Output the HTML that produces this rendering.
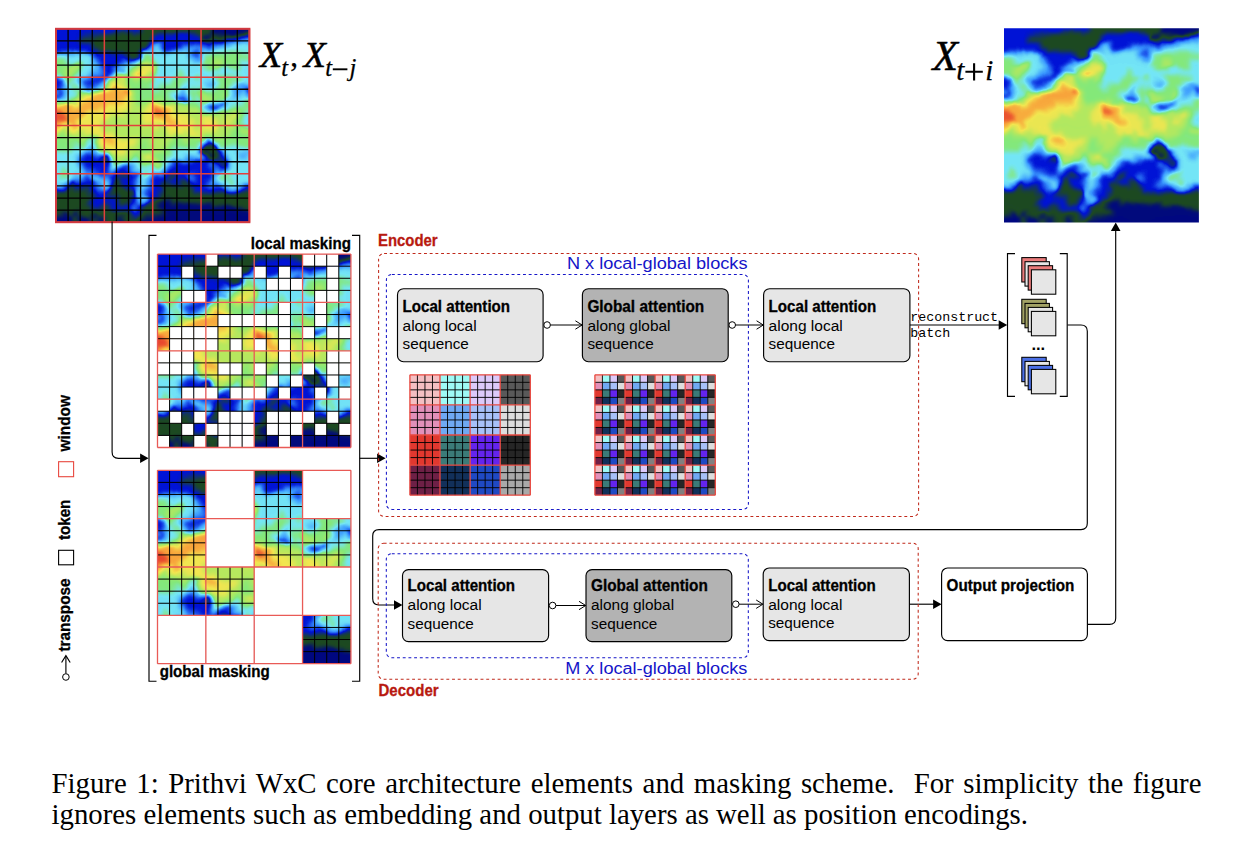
<!DOCTYPE html>
<html><head><meta charset="utf-8"><title>Figure 1</title>
<style>
html,body{margin:0;padding:0;background:#fff;}
body{width:1236px;height:856px;position:relative;overflow:hidden;font-family:"Liberation Sans",sans-serif;}
svg{position:absolute;left:0;top:0;}
.cap{position:absolute;left:51.5px;top:767.5px;width:1150px;font-family:"Liberation Serif",serif;font-size:28.8px;line-height:31px;color:#000;white-space:nowrap;}
.cap .l1{display:block;text-align:justify;text-align-last:justify;white-space:normal;height:31px;overflow:hidden;}
.cap .l2{display:block;}
</style></head>
<body>
<svg width="1236" height="856" viewBox="0 0 1236 856">
<defs><filter id="wxf" x="0" y="0" width="100%" height="100%" filterUnits="objectBoundingBox" color-interpolation-filters="sRGB"><feGaussianBlur in="SourceGraphic" stdDeviation="2.3" result="b"/><feTurbulence type="fractalNoise" baseFrequency="0.02 0.034" numOctaves="2" seed="7" result="t"/><feDisplacementMap in="b" in2="t" scale="14" xChannelSelector="R" yChannelSelector="G" result="d1"/><feTurbulence type="fractalNoise" baseFrequency="0.07" numOctaves="1" seed="3" result="t2"/><feDisplacementMap in="d1" in2="t2" scale="8" xChannelSelector="G" yChannelSelector="R" result="d2a"/><feGaussianBlur in="d2a" stdDeviation="1.0" result="d2"/><feComponentTransfer in="d2"><feFuncR type="table" tableValues="0.000 0.114 0.000 0.227 0.455 0.518 0.714 0.949 0.973 0.910"/><feFuncG type="table" tableValues="0.031 0.290 0.071 0.596 0.902 0.910 0.910 0.902 0.651 0.282"/><feFuncB type="table" tableValues="0.502 0.125 0.839 1.000 0.965 0.478 0.369 0.314 0.235 0.180"/></feComponentTransfer></filter>
<clipPath id="wxc"><rect x="0" y="0" width="193.4" height="193.4"/></clipPath>
<g id="wx" clip-path="url(#wxc)"><g filter="url(#wxf)"><rect x="-14" y="-14" width="221.4" height="221.4" fill="#393939"/><rect x="-14.00" y="-14.00" width="98.91" height="20.34" fill="#393939"/><rect x="84.61" y="-14.00" width="72.83" height="20.34" fill="#1c1c1c"/><rect x="157.14" y="-14.00" width="50.56" height="20.34" fill="#000000"/><rect x="-14.00" y="6.04" width="38.47" height="6.34" fill="#393939"/><rect x="24.18" y="6.04" width="72.83" height="6.34" fill="#1c1c1c"/><rect x="96.70" y="6.04" width="48.65" height="6.34" fill="#393939"/><rect x="145.05" y="6.04" width="12.39" height="6.34" fill="#000000"/><rect x="157.14" y="6.04" width="12.39" height="6.34" fill="#1c1c1c"/><rect x="169.22" y="6.04" width="12.39" height="6.34" fill="#393939"/><rect x="181.31" y="6.04" width="26.39" height="6.34" fill="#555555"/><rect x="-14.00" y="12.09" width="50.56" height="6.34" fill="#393939"/><rect x="36.26" y="12.09" width="60.74" height="6.34" fill="#1c1c1c"/><rect x="96.70" y="12.09" width="60.74" height="6.34" fill="#393939"/><rect x="157.14" y="12.09" width="18.43" height="6.34" fill="#555555"/><rect x="175.27" y="12.09" width="32.43" height="6.34" fill="#717171"/><rect x="-14.00" y="18.13" width="56.61" height="6.34" fill="#393939"/><rect x="42.31" y="18.13" width="54.69" height="6.34" fill="#1c1c1c"/><rect x="96.70" y="18.13" width="6.34" height="6.34" fill="#555555"/><rect x="102.74" y="18.13" width="6.34" height="6.34" fill="#717171"/><rect x="108.79" y="18.13" width="18.43" height="6.34" fill="#393939"/><rect x="126.92" y="18.13" width="30.52" height="6.34" fill="#555555"/><rect x="157.14" y="18.13" width="50.56" height="6.34" fill="#717171"/><rect x="-14.00" y="24.18" width="50.56" height="6.34" fill="#717171"/><rect x="36.26" y="24.18" width="36.56" height="6.34" fill="#393939"/><rect x="72.53" y="24.18" width="12.39" height="6.34" fill="#1c1c1c"/><rect x="84.61" y="24.18" width="12.39" height="6.34" fill="#8e8e8e"/><rect x="96.70" y="24.18" width="36.56" height="6.34" fill="#717171"/><rect x="132.96" y="24.18" width="6.34" height="6.34" fill="#555555"/><rect x="139.01" y="24.18" width="6.34" height="6.34" fill="#393939"/><rect x="145.05" y="24.18" width="62.65" height="6.34" fill="#8e8e8e"/><rect x="-14.00" y="30.22" width="26.39" height="6.34" fill="#8e8e8e"/><rect x="12.09" y="30.22" width="24.48" height="6.34" fill="#717171"/><rect x="36.26" y="30.22" width="6.34" height="6.34" fill="#555555"/><rect x="42.31" y="30.22" width="24.48" height="6.34" fill="#393939"/><rect x="66.48" y="30.22" width="6.34" height="6.34" fill="#555555"/><rect x="72.53" y="30.22" width="12.39" height="6.34" fill="#717171"/><rect x="84.61" y="30.22" width="12.39" height="6.34" fill="#8e8e8e"/><rect x="96.70" y="30.22" width="48.65" height="6.34" fill="#717171"/><rect x="145.05" y="30.22" width="12.39" height="6.34" fill="#8e8e8e"/><rect x="157.14" y="30.22" width="12.39" height="6.34" fill="#aaaaaa"/><rect x="169.22" y="30.22" width="18.43" height="6.34" fill="#8e8e8e"/><rect x="187.36" y="30.22" width="20.34" height="6.34" fill="#717171"/><rect x="-14.00" y="36.26" width="26.39" height="6.34" fill="#8e8e8e"/><rect x="12.09" y="36.26" width="12.39" height="6.34" fill="#aaaaaa"/><rect x="24.18" y="36.26" width="18.43" height="6.34" fill="#717171"/><rect x="42.31" y="36.26" width="6.34" height="6.34" fill="#555555"/><rect x="48.35" y="36.26" width="12.39" height="6.34" fill="#393939"/><rect x="60.44" y="36.26" width="6.34" height="6.34" fill="#555555"/><rect x="66.48" y="36.26" width="6.34" height="6.34" fill="#717171"/><rect x="72.53" y="36.26" width="6.34" height="6.34" fill="#8e8e8e"/><rect x="78.57" y="36.26" width="6.34" height="6.34" fill="#aaaaaa"/><rect x="84.61" y="36.26" width="12.39" height="6.34" fill="#c6c6c6"/><rect x="96.70" y="36.26" width="54.69" height="6.34" fill="#717171"/><rect x="151.09" y="36.26" width="12.39" height="6.34" fill="#8e8e8e"/><rect x="163.18" y="36.26" width="12.39" height="6.34" fill="#717171"/><rect x="175.27" y="36.26" width="12.39" height="6.34" fill="#8e8e8e"/><rect x="187.36" y="36.26" width="20.34" height="6.34" fill="#717171"/><rect x="-14.00" y="42.31" width="26.39" height="6.34" fill="#8e8e8e"/><rect x="12.09" y="42.31" width="6.34" height="6.34" fill="#aaaaaa"/><rect x="18.13" y="42.31" width="6.34" height="6.34" fill="#8e8e8e"/><rect x="24.18" y="42.31" width="12.39" height="6.34" fill="#717171"/><rect x="36.26" y="42.31" width="12.39" height="6.34" fill="#555555"/><rect x="48.35" y="42.31" width="12.39" height="6.34" fill="#393939"/><rect x="60.44" y="42.31" width="12.39" height="6.34" fill="#555555"/><rect x="72.53" y="42.31" width="6.34" height="6.34" fill="#aaaaaa"/><rect x="78.57" y="42.31" width="6.34" height="6.34" fill="#e3e3e3"/><rect x="84.61" y="42.31" width="6.34" height="6.34" fill="#c6c6c6"/><rect x="90.66" y="42.31" width="6.34" height="6.34" fill="#aaaaaa"/><rect x="96.70" y="42.31" width="24.48" height="6.34" fill="#717171"/><rect x="120.88" y="42.31" width="6.34" height="6.34" fill="#8e8e8e"/><rect x="126.92" y="42.31" width="80.78" height="6.34" fill="#717171"/><rect x="-14.00" y="48.35" width="26.39" height="6.34" fill="#393939"/><rect x="12.09" y="48.35" width="6.34" height="6.34" fill="#8e8e8e"/><rect x="18.13" y="48.35" width="6.34" height="6.34" fill="#717171"/><rect x="24.18" y="48.35" width="6.34" height="6.34" fill="#555555"/><rect x="30.22" y="48.35" width="24.48" height="6.34" fill="#393939"/><rect x="54.39" y="48.35" width="6.34" height="6.34" fill="#555555"/><rect x="60.44" y="48.35" width="6.34" height="6.34" fill="#aaaaaa"/><rect x="66.48" y="48.35" width="6.34" height="6.34" fill="#c6c6c6"/><rect x="72.53" y="48.35" width="6.34" height="6.34" fill="#8e8e8e"/><rect x="78.57" y="48.35" width="6.34" height="6.34" fill="#aaaaaa"/><rect x="84.61" y="48.35" width="6.34" height="6.34" fill="#8e8e8e"/><rect x="90.66" y="48.35" width="6.34" height="6.34" fill="#aaaaaa"/><rect x="96.70" y="48.35" width="18.43" height="6.34" fill="#717171"/><rect x="114.83" y="48.35" width="18.43" height="6.34" fill="#8e8e8e"/><rect x="132.96" y="48.35" width="6.34" height="6.34" fill="#717171"/><rect x="139.01" y="48.35" width="6.34" height="6.34" fill="#8e8e8e"/><rect x="145.05" y="48.35" width="12.39" height="6.34" fill="#717171"/><rect x="157.14" y="48.35" width="30.52" height="6.34" fill="#8e8e8e"/><rect x="187.36" y="48.35" width="20.34" height="6.34" fill="#717171"/><rect x="-14.00" y="54.39" width="20.34" height="6.34" fill="#393939"/><rect x="6.04" y="54.39" width="6.34" height="6.34" fill="#555555"/><rect x="12.09" y="54.39" width="6.34" height="6.34" fill="#717171"/><rect x="18.13" y="54.39" width="6.34" height="6.34" fill="#8e8e8e"/><rect x="24.18" y="54.39" width="6.34" height="6.34" fill="#717171"/><rect x="30.22" y="54.39" width="12.39" height="6.34" fill="#555555"/><rect x="42.31" y="54.39" width="6.34" height="6.34" fill="#717171"/><rect x="48.35" y="54.39" width="6.34" height="6.34" fill="#aaaaaa"/><rect x="54.39" y="54.39" width="6.34" height="6.34" fill="#e3e3e3"/><rect x="60.44" y="54.39" width="6.34" height="6.34" fill="#c6c6c6"/><rect x="66.48" y="54.39" width="6.34" height="6.34" fill="#aaaaaa"/><rect x="72.53" y="54.39" width="24.48" height="6.34" fill="#8e8e8e"/><rect x="96.70" y="54.39" width="6.34" height="6.34" fill="#717171"/><rect x="102.74" y="54.39" width="24.48" height="6.34" fill="#8e8e8e"/><rect x="126.92" y="54.39" width="24.48" height="6.34" fill="#717171"/><rect x="151.09" y="54.39" width="6.34" height="6.34" fill="#555555"/><rect x="157.14" y="54.39" width="18.43" height="6.34" fill="#8e8e8e"/><rect x="175.27" y="54.39" width="6.34" height="6.34" fill="#717171"/><rect x="181.31" y="54.39" width="6.34" height="6.34" fill="#555555"/><rect x="187.36" y="54.39" width="20.34" height="6.34" fill="#717171"/><rect x="-14.00" y="60.44" width="20.34" height="6.34" fill="#555555"/><rect x="6.04" y="60.44" width="6.34" height="6.34" fill="#393939"/><rect x="12.09" y="60.44" width="12.39" height="6.34" fill="#717171"/><rect x="24.18" y="60.44" width="6.34" height="6.34" fill="#aaaaaa"/><rect x="30.22" y="60.44" width="6.34" height="6.34" fill="#c6c6c6"/><rect x="36.26" y="60.44" width="30.52" height="6.34" fill="#e3e3e3"/><rect x="66.48" y="60.44" width="6.34" height="6.34" fill="#ffffff"/><rect x="72.53" y="60.44" width="6.34" height="6.34" fill="#aaaaaa"/><rect x="78.57" y="60.44" width="36.56" height="6.34" fill="#8e8e8e"/><rect x="114.83" y="60.44" width="12.39" height="6.34" fill="#717171"/><rect x="126.92" y="60.44" width="6.34" height="6.34" fill="#555555"/><rect x="132.96" y="60.44" width="12.39" height="6.34" fill="#8e8e8e"/><rect x="145.05" y="60.44" width="6.34" height="6.34" fill="#aaaaaa"/><rect x="151.09" y="60.44" width="18.43" height="6.34" fill="#8e8e8e"/><rect x="169.22" y="60.44" width="6.34" height="6.34" fill="#717171"/><rect x="175.27" y="60.44" width="12.39" height="6.34" fill="#555555"/><rect x="187.36" y="60.44" width="20.34" height="6.34" fill="#393939"/><rect x="-14.00" y="66.48" width="20.34" height="6.34" fill="#393939"/><rect x="6.04" y="66.48" width="6.34" height="6.34" fill="#555555"/><rect x="12.09" y="66.48" width="6.34" height="6.34" fill="#717171"/><rect x="18.13" y="66.48" width="6.34" height="6.34" fill="#aaaaaa"/><rect x="24.18" y="66.48" width="6.34" height="6.34" fill="#c6c6c6"/><rect x="30.22" y="66.48" width="36.56" height="6.34" fill="#e3e3e3"/><rect x="66.48" y="66.48" width="6.34" height="6.34" fill="#c6c6c6"/><rect x="72.53" y="66.48" width="6.34" height="6.34" fill="#aaaaaa"/><rect x="78.57" y="66.48" width="24.48" height="6.34" fill="#8e8e8e"/><rect x="102.74" y="66.48" width="6.34" height="6.34" fill="#aaaaaa"/><rect x="108.79" y="66.48" width="12.39" height="6.34" fill="#8e8e8e"/><rect x="120.88" y="66.48" width="12.39" height="6.34" fill="#393939"/><rect x="132.96" y="66.48" width="6.34" height="6.34" fill="#8e8e8e"/><rect x="139.01" y="66.48" width="6.34" height="6.34" fill="#717171"/><rect x="145.05" y="66.48" width="12.39" height="6.34" fill="#aaaaaa"/><rect x="157.14" y="66.48" width="6.34" height="6.34" fill="#8e8e8e"/><rect x="163.18" y="66.48" width="6.34" height="6.34" fill="#aaaaaa"/><rect x="169.22" y="66.48" width="6.34" height="6.34" fill="#717171"/><rect x="175.27" y="66.48" width="6.34" height="6.34" fill="#555555"/><rect x="181.31" y="66.48" width="6.34" height="6.34" fill="#717171"/><rect x="187.36" y="66.48" width="20.34" height="6.34" fill="#555555"/><rect x="-14.00" y="72.53" width="32.43" height="6.34" fill="#e3e3e3"/><rect x="18.13" y="72.53" width="6.34" height="6.34" fill="#c6c6c6"/><rect x="24.18" y="72.53" width="24.48" height="6.34" fill="#e3e3e3"/><rect x="48.35" y="72.53" width="24.48" height="6.34" fill="#c6c6c6"/><rect x="72.53" y="72.53" width="18.43" height="6.34" fill="#aaaaaa"/><rect x="90.66" y="72.53" width="6.34" height="6.34" fill="#c6c6c6"/><rect x="96.70" y="72.53" width="18.43" height="6.34" fill="#e3e3e3"/><rect x="114.83" y="72.53" width="6.34" height="6.34" fill="#c6c6c6"/><rect x="120.88" y="72.53" width="12.39" height="6.34" fill="#aaaaaa"/><rect x="132.96" y="72.53" width="12.39" height="6.34" fill="#8e8e8e"/><rect x="145.05" y="72.53" width="6.34" height="6.34" fill="#717171"/><rect x="151.09" y="72.53" width="12.39" height="6.34" fill="#555555"/><rect x="163.18" y="72.53" width="6.34" height="6.34" fill="#393939"/><rect x="169.22" y="72.53" width="18.43" height="6.34" fill="#717171"/><rect x="187.36" y="72.53" width="20.34" height="6.34" fill="#8e8e8e"/><rect x="-14.00" y="78.57" width="20.34" height="6.34" fill="#ffffff"/><rect x="6.04" y="78.57" width="36.56" height="6.34" fill="#e3e3e3"/><rect x="42.31" y="78.57" width="24.48" height="6.34" fill="#c6c6c6"/><rect x="66.48" y="78.57" width="18.43" height="6.34" fill="#aaaaaa"/><rect x="84.61" y="78.57" width="12.39" height="6.34" fill="#c6c6c6"/><rect x="96.70" y="78.57" width="12.39" height="6.34" fill="#ffffff"/><rect x="108.79" y="78.57" width="6.34" height="6.34" fill="#e3e3e3"/><rect x="114.83" y="78.57" width="6.34" height="6.34" fill="#c6c6c6"/><rect x="120.88" y="78.57" width="24.48" height="6.34" fill="#aaaaaa"/><rect x="145.05" y="78.57" width="6.34" height="6.34" fill="#717171"/><rect x="151.09" y="78.57" width="12.39" height="6.34" fill="#393939"/><rect x="163.18" y="78.57" width="12.39" height="6.34" fill="#717171"/><rect x="175.27" y="78.57" width="32.43" height="6.34" fill="#8e8e8e"/><rect x="-14.00" y="84.61" width="26.39" height="6.34" fill="#ffffff"/><rect x="12.09" y="84.61" width="18.43" height="6.34" fill="#e3e3e3"/><rect x="30.22" y="84.61" width="24.48" height="6.34" fill="#c6c6c6"/><rect x="54.39" y="84.61" width="30.52" height="6.34" fill="#aaaaaa"/><rect x="84.61" y="84.61" width="12.39" height="6.34" fill="#c6c6c6"/><rect x="96.70" y="84.61" width="18.43" height="6.34" fill="#e3e3e3"/><rect x="114.83" y="84.61" width="18.43" height="6.34" fill="#c6c6c6"/><rect x="132.96" y="84.61" width="12.39" height="6.34" fill="#aaaaaa"/><rect x="145.05" y="84.61" width="12.39" height="6.34" fill="#c6c6c6"/><rect x="157.14" y="84.61" width="18.43" height="6.34" fill="#aaaaaa"/><rect x="175.27" y="84.61" width="6.34" height="6.34" fill="#c6c6c6"/><rect x="181.31" y="84.61" width="6.34" height="6.34" fill="#8e8e8e"/><rect x="187.36" y="84.61" width="20.34" height="6.34" fill="#717171"/><rect x="-14.00" y="90.66" width="26.39" height="6.34" fill="#ffffff"/><rect x="12.09" y="90.66" width="12.39" height="6.34" fill="#e3e3e3"/><rect x="24.18" y="90.66" width="24.48" height="6.34" fill="#c6c6c6"/><rect x="48.35" y="90.66" width="36.56" height="6.34" fill="#aaaaaa"/><rect x="84.61" y="90.66" width="24.48" height="6.34" fill="#c6c6c6"/><rect x="108.79" y="90.66" width="12.39" height="6.34" fill="#e3e3e3"/><rect x="120.88" y="90.66" width="18.43" height="6.34" fill="#c6c6c6"/><rect x="139.01" y="90.66" width="6.34" height="6.34" fill="#aaaaaa"/><rect x="145.05" y="90.66" width="18.43" height="6.34" fill="#c6c6c6"/><rect x="163.18" y="90.66" width="6.34" height="6.34" fill="#aaaaaa"/><rect x="169.22" y="90.66" width="6.34" height="6.34" fill="#c6c6c6"/><rect x="175.27" y="90.66" width="6.34" height="6.34" fill="#aaaaaa"/><rect x="181.31" y="90.66" width="6.34" height="6.34" fill="#8e8e8e"/><rect x="187.36" y="90.66" width="20.34" height="6.34" fill="#717171"/><rect x="-14.00" y="96.70" width="20.34" height="6.34" fill="#e3e3e3"/><rect x="6.04" y="96.70" width="12.39" height="6.34" fill="#c6c6c6"/><rect x="18.13" y="96.70" width="6.34" height="6.34" fill="#e3e3e3"/><rect x="24.18" y="96.70" width="24.48" height="6.34" fill="#c6c6c6"/><rect x="48.35" y="96.70" width="48.65" height="6.34" fill="#aaaaaa"/><rect x="96.70" y="96.70" width="6.34" height="6.34" fill="#c6c6c6"/><rect x="102.74" y="96.70" width="6.34" height="6.34" fill="#aaaaaa"/><rect x="108.79" y="96.70" width="30.52" height="6.34" fill="#c6c6c6"/><rect x="139.01" y="96.70" width="6.34" height="6.34" fill="#aaaaaa"/><rect x="145.05" y="96.70" width="18.43" height="6.34" fill="#c6c6c6"/><rect x="163.18" y="96.70" width="18.43" height="6.34" fill="#aaaaaa"/><rect x="181.31" y="96.70" width="6.34" height="6.34" fill="#8e8e8e"/><rect x="187.36" y="96.70" width="20.34" height="6.34" fill="#aaaaaa"/><rect x="-14.00" y="102.74" width="20.34" height="6.34" fill="#c6c6c6"/><rect x="6.04" y="102.74" width="6.34" height="6.34" fill="#aaaaaa"/><rect x="12.09" y="102.74" width="12.39" height="6.34" fill="#c6c6c6"/><rect x="24.18" y="102.74" width="6.34" height="6.34" fill="#aaaaaa"/><rect x="30.22" y="102.74" width="30.52" height="6.34" fill="#c6c6c6"/><rect x="60.44" y="102.74" width="48.65" height="6.34" fill="#aaaaaa"/><rect x="108.79" y="102.74" width="18.43" height="6.34" fill="#c6c6c6"/><rect x="126.92" y="102.74" width="6.34" height="6.34" fill="#aaaaaa"/><rect x="132.96" y="102.74" width="12.39" height="6.34" fill="#c6c6c6"/><rect x="145.05" y="102.74" width="30.52" height="6.34" fill="#aaaaaa"/><rect x="175.27" y="102.74" width="32.43" height="6.34" fill="#8e8e8e"/><rect x="-14.00" y="108.79" width="38.47" height="6.34" fill="#8e8e8e"/><rect x="24.18" y="108.79" width="6.34" height="6.34" fill="#aaaaaa"/><rect x="30.22" y="108.79" width="6.34" height="6.34" fill="#8e8e8e"/><rect x="36.26" y="108.79" width="6.34" height="6.34" fill="#717171"/><rect x="42.31" y="108.79" width="6.34" height="6.34" fill="#c6c6c6"/><rect x="48.35" y="108.79" width="12.39" height="6.34" fill="#e3e3e3"/><rect x="60.44" y="108.79" width="18.43" height="6.34" fill="#c6c6c6"/><rect x="78.57" y="108.79" width="6.34" height="6.34" fill="#aaaaaa"/><rect x="84.61" y="108.79" width="6.34" height="6.34" fill="#8e8e8e"/><rect x="90.66" y="108.79" width="24.48" height="6.34" fill="#aaaaaa"/><rect x="114.83" y="108.79" width="12.39" height="6.34" fill="#8e8e8e"/><rect x="126.92" y="108.79" width="6.34" height="6.34" fill="#aaaaaa"/><rect x="132.96" y="108.79" width="18.43" height="6.34" fill="#8e8e8e"/><rect x="151.09" y="108.79" width="6.34" height="6.34" fill="#393939"/><rect x="157.14" y="108.79" width="50.56" height="6.34" fill="#8e8e8e"/><rect x="-14.00" y="114.83" width="32.43" height="6.34" fill="#8e8e8e"/><rect x="18.13" y="114.83" width="6.34" height="6.34" fill="#717171"/><rect x="24.18" y="114.83" width="6.34" height="6.34" fill="#8e8e8e"/><rect x="30.22" y="114.83" width="12.39" height="6.34" fill="#717171"/><rect x="42.31" y="114.83" width="30.52" height="6.34" fill="#c6c6c6"/><rect x="72.53" y="114.83" width="12.39" height="6.34" fill="#aaaaaa"/><rect x="84.61" y="114.83" width="12.39" height="6.34" fill="#8e8e8e"/><rect x="96.70" y="114.83" width="12.39" height="6.34" fill="#aaaaaa"/><rect x="108.79" y="114.83" width="36.56" height="6.34" fill="#8e8e8e"/><rect x="145.05" y="114.83" width="18.43" height="6.34" fill="#1c1c1c"/><rect x="163.18" y="114.83" width="44.52" height="6.34" fill="#8e8e8e"/><rect x="-14.00" y="120.88" width="38.47" height="6.34" fill="#717171"/><rect x="24.18" y="120.88" width="6.34" height="6.34" fill="#555555"/><rect x="30.22" y="120.88" width="12.39" height="6.34" fill="#393939"/><rect x="42.31" y="120.88" width="6.34" height="6.34" fill="#555555"/><rect x="48.35" y="120.88" width="6.34" height="6.34" fill="#1c1c1c"/><rect x="54.39" y="120.88" width="24.48" height="6.34" fill="#aaaaaa"/><rect x="78.57" y="120.88" width="6.34" height="6.34" fill="#8e8e8e"/><rect x="84.61" y="120.88" width="6.34" height="6.34" fill="#aaaaaa"/><rect x="90.66" y="120.88" width="6.34" height="6.34" fill="#c6c6c6"/><rect x="96.70" y="120.88" width="18.43" height="6.34" fill="#8e8e8e"/><rect x="114.83" y="120.88" width="30.52" height="6.34" fill="#717171"/><rect x="145.05" y="120.88" width="6.34" height="6.34" fill="#000000"/><rect x="151.09" y="120.88" width="12.39" height="6.34" fill="#1c1c1c"/><rect x="163.18" y="120.88" width="6.34" height="6.34" fill="#393939"/><rect x="169.22" y="120.88" width="18.43" height="6.34" fill="#717171"/><rect x="187.36" y="120.88" width="20.34" height="6.34" fill="#555555"/><rect x="-14.00" y="126.92" width="38.47" height="6.34" fill="#717171"/><rect x="24.18" y="126.92" width="24.48" height="6.34" fill="#393939"/><rect x="48.35" y="126.92" width="6.34" height="6.34" fill="#1c1c1c"/><rect x="54.39" y="126.92" width="12.39" height="6.34" fill="#aaaaaa"/><rect x="66.48" y="126.92" width="12.39" height="6.34" fill="#8e8e8e"/><rect x="78.57" y="126.92" width="6.34" height="6.34" fill="#717171"/><rect x="84.61" y="126.92" width="18.43" height="6.34" fill="#aaaaaa"/><rect x="102.74" y="126.92" width="6.34" height="6.34" fill="#8e8e8e"/><rect x="108.79" y="126.92" width="18.43" height="6.34" fill="#717171"/><rect x="126.92" y="126.92" width="12.39" height="6.34" fill="#555555"/><rect x="139.01" y="126.92" width="6.34" height="6.34" fill="#717171"/><rect x="145.05" y="126.92" width="6.34" height="6.34" fill="#393939"/><rect x="151.09" y="126.92" width="6.34" height="6.34" fill="#000000"/><rect x="157.14" y="126.92" width="6.34" height="6.34" fill="#1c1c1c"/><rect x="163.18" y="126.92" width="6.34" height="6.34" fill="#393939"/><rect x="169.22" y="126.92" width="12.39" height="6.34" fill="#717171"/><rect x="181.31" y="126.92" width="6.34" height="6.34" fill="#555555"/><rect x="187.36" y="126.92" width="20.34" height="6.34" fill="#717171"/><rect x="-14.00" y="132.96" width="38.47" height="6.34" fill="#717171"/><rect x="24.18" y="132.96" width="6.34" height="6.34" fill="#555555"/><rect x="30.22" y="132.96" width="24.48" height="6.34" fill="#393939"/><rect x="54.39" y="132.96" width="6.34" height="6.34" fill="#8e8e8e"/><rect x="60.44" y="132.96" width="6.34" height="6.34" fill="#717171"/><rect x="66.48" y="132.96" width="6.34" height="6.34" fill="#393939"/><rect x="72.53" y="132.96" width="6.34" height="6.34" fill="#555555"/><rect x="78.57" y="132.96" width="6.34" height="6.34" fill="#717171"/><rect x="84.61" y="132.96" width="6.34" height="6.34" fill="#8e8e8e"/><rect x="90.66" y="132.96" width="6.34" height="6.34" fill="#717171"/><rect x="96.70" y="132.96" width="6.34" height="6.34" fill="#aaaaaa"/><rect x="102.74" y="132.96" width="6.34" height="6.34" fill="#717171"/><rect x="108.79" y="132.96" width="6.34" height="6.34" fill="#555555"/><rect x="114.83" y="132.96" width="36.56" height="6.34" fill="#393939"/><rect x="151.09" y="132.96" width="6.34" height="6.34" fill="#555555"/><rect x="157.14" y="132.96" width="6.34" height="6.34" fill="#393939"/><rect x="163.18" y="132.96" width="6.34" height="6.34" fill="#1c1c1c"/><rect x="169.22" y="132.96" width="38.47" height="6.34" fill="#717171"/><rect x="-14.00" y="139.01" width="20.34" height="6.34" fill="#717171"/><rect x="6.04" y="139.01" width="6.34" height="6.34" fill="#8e8e8e"/><rect x="12.09" y="139.01" width="18.43" height="6.34" fill="#717171"/><rect x="30.22" y="139.01" width="12.39" height="6.34" fill="#555555"/><rect x="42.31" y="139.01" width="12.39" height="6.34" fill="#393939"/><rect x="54.39" y="139.01" width="6.34" height="6.34" fill="#555555"/><rect x="60.44" y="139.01" width="12.39" height="6.34" fill="#393939"/><rect x="72.53" y="139.01" width="6.34" height="6.34" fill="#555555"/><rect x="78.57" y="139.01" width="24.48" height="6.34" fill="#717171"/><rect x="102.74" y="139.01" width="6.34" height="6.34" fill="#555555"/><rect x="108.79" y="139.01" width="48.65" height="6.34" fill="#393939"/><rect x="157.14" y="139.01" width="6.34" height="6.34" fill="#555555"/><rect x="163.18" y="139.01" width="6.34" height="6.34" fill="#393939"/><rect x="169.22" y="139.01" width="38.47" height="6.34" fill="#717171"/><rect x="-14.00" y="145.05" width="20.34" height="6.34" fill="#717171"/><rect x="6.04" y="145.05" width="6.34" height="6.34" fill="#8e8e8e"/><rect x="12.09" y="145.05" width="6.34" height="6.34" fill="#717171"/><rect x="18.13" y="145.05" width="12.39" height="6.34" fill="#555555"/><rect x="30.22" y="145.05" width="6.34" height="6.34" fill="#393939"/><rect x="36.26" y="145.05" width="6.34" height="6.34" fill="#717171"/><rect x="42.31" y="145.05" width="12.39" height="6.34" fill="#555555"/><rect x="54.39" y="145.05" width="12.39" height="6.34" fill="#393939"/><rect x="66.48" y="145.05" width="6.34" height="6.34" fill="#1c1c1c"/><rect x="72.53" y="145.05" width="12.39" height="6.34" fill="#393939"/><rect x="84.61" y="145.05" width="6.34" height="6.34" fill="#8e8e8e"/><rect x="90.66" y="145.05" width="6.34" height="6.34" fill="#717171"/><rect x="96.70" y="145.05" width="18.43" height="6.34" fill="#393939"/><rect x="114.83" y="145.05" width="6.34" height="6.34" fill="#1c1c1c"/><rect x="120.88" y="145.05" width="12.39" height="6.34" fill="#393939"/><rect x="132.96" y="145.05" width="6.34" height="6.34" fill="#555555"/><rect x="139.01" y="145.05" width="18.43" height="6.34" fill="#393939"/><rect x="157.14" y="145.05" width="6.34" height="6.34" fill="#717171"/><rect x="163.18" y="145.05" width="12.39" height="6.34" fill="#8e8e8e"/><rect x="175.27" y="145.05" width="32.43" height="6.34" fill="#717171"/><rect x="-14.00" y="151.09" width="20.34" height="6.34" fill="#717171"/><rect x="6.04" y="151.09" width="6.34" height="6.34" fill="#555555"/><rect x="12.09" y="151.09" width="6.34" height="6.34" fill="#1c1c1c"/><rect x="18.13" y="151.09" width="18.43" height="6.34" fill="#393939"/><rect x="36.26" y="151.09" width="6.34" height="6.34" fill="#555555"/><rect x="42.31" y="151.09" width="6.34" height="6.34" fill="#717171"/><rect x="48.35" y="151.09" width="6.34" height="6.34" fill="#555555"/><rect x="54.39" y="151.09" width="6.34" height="6.34" fill="#393939"/><rect x="60.44" y="151.09" width="6.34" height="6.34" fill="#1c1c1c"/><rect x="66.48" y="151.09" width="12.39" height="6.34" fill="#393939"/><rect x="78.57" y="151.09" width="6.34" height="6.34" fill="#555555"/><rect x="84.61" y="151.09" width="6.34" height="6.34" fill="#717171"/><rect x="90.66" y="151.09" width="6.34" height="6.34" fill="#555555"/><rect x="96.70" y="151.09" width="12.39" height="6.34" fill="#393939"/><rect x="108.79" y="151.09" width="6.34" height="6.34" fill="#1c1c1c"/><rect x="114.83" y="151.09" width="12.39" height="6.34" fill="#393939"/><rect x="126.92" y="151.09" width="6.34" height="6.34" fill="#1c1c1c"/><rect x="132.96" y="151.09" width="18.43" height="6.34" fill="#393939"/><rect x="151.09" y="151.09" width="12.39" height="6.34" fill="#555555"/><rect x="163.18" y="151.09" width="12.39" height="6.34" fill="#717171"/><rect x="175.27" y="151.09" width="6.34" height="6.34" fill="#8e8e8e"/><rect x="181.31" y="151.09" width="26.39" height="6.34" fill="#717171"/><rect x="-14.00" y="157.14" width="44.52" height="6.34" fill="#1c1c1c"/><rect x="30.22" y="157.14" width="6.34" height="6.34" fill="#393939"/><rect x="36.26" y="157.14" width="6.34" height="6.34" fill="#555555"/><rect x="42.31" y="157.14" width="6.34" height="6.34" fill="#717171"/><rect x="48.35" y="157.14" width="6.34" height="6.34" fill="#393939"/><rect x="54.39" y="157.14" width="12.39" height="6.34" fill="#1c1c1c"/><rect x="66.48" y="157.14" width="12.39" height="6.34" fill="#393939"/><rect x="78.57" y="157.14" width="6.34" height="6.34" fill="#555555"/><rect x="84.61" y="157.14" width="6.34" height="6.34" fill="#717171"/><rect x="90.66" y="157.14" width="6.34" height="6.34" fill="#555555"/><rect x="96.70" y="157.14" width="12.39" height="6.34" fill="#393939"/><rect x="108.79" y="157.14" width="30.52" height="6.34" fill="#1c1c1c"/><rect x="139.01" y="157.14" width="30.52" height="6.34" fill="#393939"/><rect x="169.22" y="157.14" width="18.43" height="6.34" fill="#555555"/><rect x="187.36" y="157.14" width="20.34" height="6.34" fill="#393939"/><rect x="-14.00" y="163.18" width="50.56" height="6.34" fill="#1c1c1c"/><rect x="36.26" y="163.18" width="12.39" height="6.34" fill="#393939"/><rect x="48.35" y="163.18" width="30.52" height="6.34" fill="#1c1c1c"/><rect x="78.57" y="163.18" width="6.34" height="6.34" fill="#717171"/><rect x="84.61" y="163.18" width="6.34" height="6.34" fill="#555555"/><rect x="90.66" y="163.18" width="12.39" height="6.34" fill="#393939"/><rect x="102.74" y="163.18" width="104.96" height="6.34" fill="#1c1c1c"/><rect x="-14.00" y="169.22" width="44.52" height="6.34" fill="#1c1c1c"/><rect x="30.22" y="169.22" width="30.52" height="6.34" fill="#393939"/><rect x="60.44" y="169.22" width="12.39" height="6.34" fill="#1c1c1c"/><rect x="72.53" y="169.22" width="6.34" height="6.34" fill="#393939"/><rect x="78.57" y="169.22" width="6.34" height="6.34" fill="#555555"/><rect x="84.61" y="169.22" width="6.34" height="6.34" fill="#717171"/><rect x="90.66" y="169.22" width="6.34" height="6.34" fill="#393939"/><rect x="96.70" y="169.22" width="6.34" height="6.34" fill="#1c1c1c"/><rect x="102.74" y="169.22" width="12.39" height="6.34" fill="#000000"/><rect x="114.83" y="169.22" width="92.87" height="6.34" fill="#1c1c1c"/><rect x="-14.00" y="175.27" width="50.56" height="6.34" fill="#1c1c1c"/><rect x="36.26" y="175.27" width="12.39" height="6.34" fill="#393939"/><rect x="48.35" y="175.27" width="6.34" height="6.34" fill="#1c1c1c"/><rect x="54.39" y="175.27" width="18.43" height="6.34" fill="#393939"/><rect x="72.53" y="175.27" width="6.34" height="6.34" fill="#555555"/><rect x="78.57" y="175.27" width="6.34" height="6.34" fill="#393939"/><rect x="84.61" y="175.27" width="18.43" height="6.34" fill="#1c1c1c"/><rect x="102.74" y="175.27" width="54.69" height="6.34" fill="#000000"/><rect x="157.14" y="175.27" width="50.56" height="6.34" fill="#1c1c1c"/><rect x="-14.00" y="181.31" width="20.34" height="6.34" fill="#1c1c1c"/><rect x="6.04" y="181.31" width="6.34" height="6.34" fill="#000000"/><rect x="12.09" y="181.31" width="6.34" height="6.34" fill="#1c1c1c"/><rect x="18.13" y="181.31" width="6.34" height="6.34" fill="#000000"/><rect x="24.18" y="181.31" width="12.39" height="6.34" fill="#1c1c1c"/><rect x="36.26" y="181.31" width="6.34" height="6.34" fill="#000000"/><rect x="42.31" y="181.31" width="30.52" height="6.34" fill="#1c1c1c"/><rect x="72.53" y="181.31" width="12.39" height="6.34" fill="#393939"/><rect x="84.61" y="181.31" width="24.48" height="6.34" fill="#1c1c1c"/><rect x="108.79" y="181.31" width="98.91" height="6.34" fill="#000000"/><rect x="-14.00" y="187.36" width="32.43" height="20.34" fill="#000000"/><rect x="18.13" y="187.36" width="6.34" height="20.34" fill="#1c1c1c"/><rect x="24.18" y="187.36" width="12.39" height="20.34" fill="#000000"/><rect x="36.26" y="187.36" width="6.34" height="20.34" fill="#1c1c1c"/><rect x="42.31" y="187.36" width="6.34" height="20.34" fill="#000000"/><rect x="48.35" y="187.36" width="12.39" height="20.34" fill="#1c1c1c"/><rect x="60.44" y="187.36" width="6.34" height="20.34" fill="#000000"/><rect x="66.48" y="187.36" width="12.39" height="20.34" fill="#1c1c1c"/><rect x="78.57" y="187.36" width="129.13" height="20.34" fill="#000000"/></g></g></defs>
<use href="#wx" x="56.0" y="28.8"/>
<path d="M68.09 28.80V222.20M56.00 40.89H249.40M80.17 28.80V222.20M56.00 52.98H249.40M92.26 28.80V222.20M56.00 65.06H249.40M116.44 28.80V222.20M56.00 89.24H249.40M128.53 28.80V222.20M56.00 101.33H249.40M140.61 28.80V222.20M56.00 113.41H249.40M164.79 28.80V222.20M56.00 137.59H249.40M176.88 28.80V222.20M56.00 149.68H249.40M188.96 28.80V222.20M56.00 161.76H249.40M213.14 28.80V222.20M56.00 185.94H249.40M225.22 28.80V222.20M56.00 198.03H249.40M237.31 28.80V222.20M56.00 210.11H249.40" stroke="#000" stroke-width="1.3" fill="none"/>
<path d="M56.00 28.80V222.20M56.00 28.80H249.40M104.35 28.80V222.20M56.00 77.15H249.40M152.70 28.80V222.20M56.00 125.50H249.40M201.05 28.80V222.20M56.00 173.85H249.40M249.40 28.80V222.20M56.00 222.20H249.40" stroke="#e2403c" stroke-width="1.5" fill="none"/>
<rect x="56.0" y="28.8" width="193.4" height="193.4" fill="none" stroke="#d23a40" stroke-width="2.0"/>
<use href="#wx" transform="translate(1004.0,28.2) scale(1.00776,1.00465)"/>
<use href="#wx" x="157.5" y="254.1"/>
<rect x="205.85" y="254.10" width="12.09" height="12.09" fill="#fff"/>
<rect x="302.55" y="254.10" width="12.09" height="12.09" fill="#fff"/>
<rect x="314.64" y="254.10" width="12.09" height="12.09" fill="#fff"/>
<rect x="326.73" y="254.10" width="12.09" height="12.09" fill="#fff"/>
<rect x="181.68" y="266.19" width="12.09" height="12.09" fill="#fff"/>
<rect x="217.94" y="266.19" width="12.09" height="12.09" fill="#fff"/>
<rect x="230.03" y="266.19" width="12.09" height="12.09" fill="#fff"/>
<rect x="254.20" y="266.19" width="12.09" height="12.09" fill="#fff"/>
<rect x="278.38" y="266.19" width="12.09" height="12.09" fill="#fff"/>
<rect x="326.73" y="266.19" width="12.09" height="12.09" fill="#fff"/>
<rect x="266.29" y="278.27" width="12.09" height="12.09" fill="#fff"/>
<rect x="278.38" y="278.27" width="12.09" height="12.09" fill="#fff"/>
<rect x="290.46" y="278.27" width="12.09" height="12.09" fill="#fff"/>
<rect x="326.73" y="278.27" width="12.09" height="12.09" fill="#fff"/>
<rect x="181.68" y="290.36" width="12.09" height="12.09" fill="#fff"/>
<rect x="193.76" y="290.36" width="12.09" height="12.09" fill="#fff"/>
<rect x="314.64" y="290.36" width="12.09" height="12.09" fill="#fff"/>
<rect x="326.73" y="290.36" width="12.09" height="12.09" fill="#fff"/>
<rect x="278.38" y="302.45" width="12.09" height="12.09" fill="#fff"/>
<rect x="314.64" y="302.45" width="12.09" height="12.09" fill="#fff"/>
<rect x="217.94" y="314.54" width="12.09" height="12.09" fill="#fff"/>
<rect x="230.03" y="314.54" width="12.09" height="12.09" fill="#fff"/>
<rect x="242.11" y="314.54" width="12.09" height="12.09" fill="#fff"/>
<rect x="254.20" y="314.54" width="12.09" height="12.09" fill="#fff"/>
<rect x="266.29" y="314.54" width="12.09" height="12.09" fill="#fff"/>
<rect x="278.38" y="314.54" width="12.09" height="12.09" fill="#fff"/>
<rect x="314.64" y="314.54" width="12.09" height="12.09" fill="#fff"/>
<rect x="169.59" y="326.62" width="12.09" height="12.09" fill="#fff"/>
<rect x="181.68" y="326.62" width="12.09" height="12.09" fill="#fff"/>
<rect x="193.76" y="326.62" width="12.09" height="12.09" fill="#fff"/>
<rect x="205.85" y="326.62" width="12.09" height="12.09" fill="#fff"/>
<rect x="278.38" y="326.62" width="12.09" height="12.09" fill="#fff"/>
<rect x="302.55" y="326.62" width="12.09" height="12.09" fill="#fff"/>
<rect x="326.73" y="326.62" width="12.09" height="12.09" fill="#fff"/>
<rect x="338.81" y="326.62" width="12.09" height="12.09" fill="#fff"/>
<rect x="169.59" y="338.71" width="12.09" height="12.09" fill="#fff"/>
<rect x="181.68" y="338.71" width="12.09" height="12.09" fill="#fff"/>
<rect x="193.76" y="338.71" width="12.09" height="12.09" fill="#fff"/>
<rect x="205.85" y="338.71" width="12.09" height="12.09" fill="#fff"/>
<rect x="230.03" y="338.71" width="12.09" height="12.09" fill="#fff"/>
<rect x="254.20" y="338.71" width="12.09" height="12.09" fill="#fff"/>
<rect x="278.38" y="338.71" width="12.09" height="12.09" fill="#fff"/>
<rect x="157.50" y="350.80" width="12.09" height="12.09" fill="#fff"/>
<rect x="169.59" y="350.80" width="12.09" height="12.09" fill="#fff"/>
<rect x="181.68" y="350.80" width="12.09" height="12.09" fill="#fff"/>
<rect x="278.38" y="350.80" width="12.09" height="12.09" fill="#fff"/>
<rect x="326.73" y="350.80" width="12.09" height="12.09" fill="#fff"/>
<rect x="338.81" y="350.80" width="12.09" height="12.09" fill="#fff"/>
<rect x="157.50" y="362.89" width="12.09" height="12.09" fill="#fff"/>
<rect x="169.59" y="362.89" width="12.09" height="12.09" fill="#fff"/>
<rect x="181.68" y="362.89" width="12.09" height="12.09" fill="#fff"/>
<rect x="217.94" y="362.89" width="12.09" height="12.09" fill="#fff"/>
<rect x="230.03" y="362.89" width="12.09" height="12.09" fill="#fff"/>
<rect x="254.20" y="362.89" width="12.09" height="12.09" fill="#fff"/>
<rect x="278.38" y="362.89" width="12.09" height="12.09" fill="#fff"/>
<rect x="302.55" y="362.89" width="12.09" height="12.09" fill="#fff"/>
<rect x="326.73" y="362.89" width="12.09" height="12.09" fill="#fff"/>
<rect x="338.81" y="362.89" width="12.09" height="12.09" fill="#fff"/>
<rect x="266.29" y="374.98" width="12.09" height="12.09" fill="#fff"/>
<rect x="290.46" y="374.98" width="12.09" height="12.09" fill="#fff"/>
<rect x="326.73" y="374.98" width="12.09" height="12.09" fill="#fff"/>
<rect x="181.68" y="387.06" width="12.09" height="12.09" fill="#fff"/>
<rect x="193.76" y="387.06" width="12.09" height="12.09" fill="#fff"/>
<rect x="205.85" y="387.06" width="12.09" height="12.09" fill="#fff"/>
<rect x="230.03" y="387.06" width="12.09" height="12.09" fill="#fff"/>
<rect x="242.11" y="387.06" width="12.09" height="12.09" fill="#fff"/>
<rect x="254.20" y="387.06" width="12.09" height="12.09" fill="#fff"/>
<rect x="278.38" y="387.06" width="12.09" height="12.09" fill="#fff"/>
<rect x="314.64" y="387.06" width="12.09" height="12.09" fill="#fff"/>
<rect x="338.81" y="387.06" width="12.09" height="12.09" fill="#fff"/>
<rect x="157.50" y="399.15" width="12.09" height="12.09" fill="#fff"/>
<rect x="169.59" y="411.24" width="12.09" height="12.09" fill="#fff"/>
<rect x="193.76" y="411.24" width="12.09" height="12.09" fill="#fff"/>
<rect x="217.94" y="411.24" width="12.09" height="12.09" fill="#fff"/>
<rect x="230.03" y="411.24" width="12.09" height="12.09" fill="#fff"/>
<rect x="242.11" y="411.24" width="12.09" height="12.09" fill="#fff"/>
<rect x="266.29" y="411.24" width="12.09" height="12.09" fill="#fff"/>
<rect x="278.38" y="411.24" width="12.09" height="12.09" fill="#fff"/>
<rect x="290.46" y="411.24" width="12.09" height="12.09" fill="#fff"/>
<rect x="302.55" y="411.24" width="12.09" height="12.09" fill="#fff"/>
<rect x="326.73" y="411.24" width="12.09" height="12.09" fill="#fff"/>
<rect x="181.68" y="423.32" width="12.09" height="12.09" fill="#fff"/>
<rect x="205.85" y="423.32" width="12.09" height="12.09" fill="#fff"/>
<rect x="217.94" y="423.32" width="12.09" height="12.09" fill="#fff"/>
<rect x="230.03" y="423.32" width="12.09" height="12.09" fill="#fff"/>
<rect x="242.11" y="423.32" width="12.09" height="12.09" fill="#fff"/>
<rect x="266.29" y="423.32" width="12.09" height="12.09" fill="#fff"/>
<rect x="278.38" y="423.32" width="12.09" height="12.09" fill="#fff"/>
<rect x="290.46" y="423.32" width="12.09" height="12.09" fill="#fff"/>
<rect x="314.64" y="423.32" width="12.09" height="12.09" fill="#fff"/>
<rect x="338.81" y="423.32" width="12.09" height="12.09" fill="#fff"/>
<rect x="157.50" y="435.41" width="12.09" height="12.09" fill="#fff"/>
<rect x="193.76" y="435.41" width="12.09" height="12.09" fill="#fff"/>
<rect x="217.94" y="435.41" width="12.09" height="12.09" fill="#fff"/>
<rect x="230.03" y="435.41" width="12.09" height="12.09" fill="#fff"/>
<rect x="242.11" y="435.41" width="12.09" height="12.09" fill="#fff"/>
<rect x="278.38" y="435.41" width="12.09" height="12.09" fill="#fff"/>
<path d="M169.59 254.10V447.50M157.50 266.19H350.90M181.68 254.10V447.50M157.50 278.27H350.90M193.76 254.10V447.50M157.50 290.36H350.90M217.94 254.10V447.50M157.50 314.54H350.90M230.03 254.10V447.50M157.50 326.62H350.90M242.11 254.10V447.50M157.50 338.71H350.90M266.29 254.10V447.50M157.50 362.89H350.90M278.38 254.10V447.50M157.50 374.98H350.90M290.46 254.10V447.50M157.50 387.06H350.90M314.64 254.10V447.50M157.50 411.24H350.90M326.73 254.10V447.50M157.50 423.32H350.90M338.81 254.10V447.50M157.50 435.41H350.90" stroke="#000" stroke-width="1.0" fill="none"/>
<path d="M157.50 254.10V447.50M157.50 254.10H350.90M205.85 254.10V447.50M157.50 302.45H350.90M254.20 254.10V447.50M157.50 350.80H350.90M302.55 254.10V447.50M157.50 399.15H350.90M350.90 254.10V447.50M157.50 447.50H350.90" stroke="#e95a56" stroke-width="1.3" fill="none"/>
<use href="#wx" x="157.5" y="470.3"/>
<rect x="205.85" y="470.30" width="48.35" height="48.35" fill="#fff"/>
<rect x="302.55" y="470.30" width="48.35" height="48.35" fill="#fff"/>
<rect x="205.85" y="518.65" width="48.35" height="48.35" fill="#fff"/>
<rect x="254.20" y="567.00" width="48.35" height="48.35" fill="#fff"/>
<rect x="302.55" y="567.00" width="48.35" height="48.35" fill="#fff"/>
<rect x="157.50" y="615.35" width="48.35" height="48.35" fill="#fff"/>
<rect x="205.85" y="615.35" width="48.35" height="48.35" fill="#fff"/>
<rect x="254.20" y="615.35" width="48.35" height="48.35" fill="#fff"/>
<path d="M169.59 470.30v48.35M157.50 482.39h48.35M181.68 470.30v48.35M157.50 494.48h48.35M193.76 470.30v48.35M157.50 506.56h48.35M266.29 470.30v48.35M254.20 482.39h48.35M278.38 470.30v48.35M254.20 494.48h48.35M290.46 470.30v48.35M254.20 506.56h48.35M169.59 518.65v48.35M157.50 530.74h48.35M181.68 518.65v48.35M157.50 542.82h48.35M193.76 518.65v48.35M157.50 554.91h48.35M266.29 518.65v48.35M254.20 530.74h48.35M278.38 518.65v48.35M254.20 542.82h48.35M290.46 518.65v48.35M254.20 554.91h48.35M314.64 518.65v48.35M302.55 530.74h48.35M326.73 518.65v48.35M302.55 542.82h48.35M338.81 518.65v48.35M302.55 554.91h48.35M169.59 567.00v48.35M157.50 579.09h48.35M181.68 567.00v48.35M157.50 591.17h48.35M193.76 567.00v48.35M157.50 603.26h48.35M217.94 567.00v48.35M205.85 579.09h48.35M230.03 567.00v48.35M205.85 591.17h48.35M242.11 567.00v48.35M205.85 603.26h48.35M314.64 615.35v48.35M302.55 627.44h48.35M326.73 615.35v48.35M302.55 639.52h48.35M338.81 615.35v48.35M302.55 651.61h48.35" stroke="#000" stroke-width="1.0" fill="none"/>
<path d="M157.50 470.30V663.70M157.50 470.30H350.90M205.85 470.30V663.70M157.50 518.65H350.90M254.20 470.30V663.70M157.50 567.00H350.90M302.55 470.30V663.70M157.50 615.35H350.90M350.90 470.30V663.70M157.50 663.70H350.90" stroke="#e95a56" stroke-width="1.3" fill="none"/>
<g font-family="Liberation Serif, serif" font-style="italic" fill="#000" stroke="#000" stroke-width="0.55" stroke-linejoin="round"><text x="259.8" y="66.5" font-size="36.6">X</text><text x="303.5" y="66.5" font-size="36.6">X</text><text x="932.4" y="69.8" font-size="41.6">X</text></g>
<g font-family="Liberation Serif, serif" font-style="italic" fill="#000" stroke="#000" stroke-width="0.25"><text x="281.2" y="75.9" font-size="24.5">t</text><text x="290.2" y="66.4" font-size="31" font-style="normal">,</text><text x="325.3" y="75.9" font-size="24.5">t</text><text x="349.5" y="75.9" font-size="24.5">j</text><text x="956.3" y="80" font-size="29">t</text><text x="985.3" y="80" font-size="29">i</text></g>
<path d="M332.8 69.3H347.4" stroke="#000" stroke-width="1.9" fill="none"/>
<path d="M965.4 71.8H982.8M974.1 63.2V80.6" stroke="#000" stroke-width="2.1" fill="none"/>
<path d="M112.1 221.6V452Q112.1 458.3 118.4 458.3H141" stroke="#000" stroke-width="1.15" fill="none"/><path d="M148.6 458.3L140.1 453.5L140.1 463.1Z" fill="#000"/>
<path d="M156.5 235.3H149V681.2H156.5" stroke="#000" stroke-width="1.15" fill="none"/><path d="M352 235.3H359.7V681.2H352" stroke="#000" stroke-width="1.15" fill="none"/>
<path d="M359.7 458.3H378" stroke="#000" stroke-width="1.15" fill="none"/><path d="M385.6 458.3L377.1 453.5L377.1 463.1Z" fill="#000"/>
<path d="M1087.5 624.4H1109.5Q1115.7 624.4 1115.7 618.2V230" stroke="#000" stroke-width="1.15" fill="none"/><path d="M1115.7 222.5L1110.9 231.0L1120.5 231.0Z" fill="#000"/>
<path d="M1067.4 325H1081Q1087.3 325 1087.3 331.3V523.3Q1087.3 529.6 1081 529.6H379Q372.7 529.6 372.7 535.9V598.8Q372.7 605 379 605H395" stroke="#000" stroke-width="1.15" fill="none"/><path d="M402.5 605L394.0 600.2L394.0 609.8Z" fill="#000"/>
<path d="M910 325H1000" stroke="#000" stroke-width="1.15" fill="none"/><path d="M1007.2 325L998.7 320.2L998.7 329.8Z" fill="#000"/>
<path d="M1015 253.6H1007.5V396.4H1015" stroke="#000" stroke-width="1.15" fill="none"/><path d="M1059.8 253.6H1067.2V396.4H1059.8" stroke="#000" stroke-width="1.15" fill="none"/>
<path d="M909.5 604.2H934" stroke="#000" stroke-width="1.15" fill="none"/><path d="M941.6 604.2L933.1 599.4000000000001L933.1 609.0Z" fill="#000"/>
<rect x="378.6" y="253.4" width="540" height="263" rx="5.5" fill="none" stroke="#c0281a" stroke-width="1.05" stroke-dasharray="2.9 2.8"/>
<rect x="386.4" y="274.4" width="362" height="235" rx="5.5" fill="none" stroke="#1616c8" stroke-width="1.05" stroke-dasharray="2.9 2.8"/>
<rect x="378.2" y="543.2" width="540" height="136" rx="5.5" fill="none" stroke="#c0281a" stroke-width="1.05" stroke-dasharray="2.9 2.8"/>
<rect x="386.3" y="553.7" width="362" height="104" rx="5.5" fill="none" stroke="#1616c8" stroke-width="1.05" stroke-dasharray="2.9 2.8"/>
<g font-family="Liberation Sans, sans-serif" fill="#000">
<text x="378" y="246.2" font-size="16" textLength="59.6" lengthAdjust="spacingAndGlyphs" font-weight="bold" fill="#b8190f" stroke="#b8190f" stroke-width="0.3">Encoder</text>
<text x="378.5" y="696" font-size="16" textLength="60.1" lengthAdjust="spacingAndGlyphs" font-weight="bold" fill="#b8190f" stroke="#b8190f" stroke-width="0.3">Decoder</text>
<text x="566.9" y="269.3" font-size="16" textLength="180.6" lengthAdjust="spacingAndGlyphs" fill="#1414c8">N x local-global blocks</text>
<text x="565.2" y="673.7" font-size="16" textLength="182.1" lengthAdjust="spacingAndGlyphs" fill="#1414c8">M x local-global blocks</text>
<text x="250.8" y="249.2" font-size="16" textLength="100.1" lengthAdjust="spacingAndGlyphs" font-weight="bold" stroke="#000" stroke-width="0.3">local masking</text>
<text x="159.7" y="677.3" font-size="16" textLength="110" lengthAdjust="spacingAndGlyphs" font-weight="bold" stroke="#000" stroke-width="0.3">global masking</text>
<rect x="397.5" y="288.7" width="145.6" height="73" rx="6" ry="6" fill="#e6e6e6" stroke="#000" stroke-width="1.15"/>
<text x="402.5" y="311.9" font-size="15.9" textLength="107.6" lengthAdjust="spacingAndGlyphs" font-weight="bold" stroke="#000" stroke-width="0.3">Local attention</text>
<text x="402.5" y="330.5" font-size="15.2" textLength="74.2" lengthAdjust="spacingAndGlyphs">along local</text>
<text x="402.5" y="349.1" font-size="15.2" textLength="66.3" lengthAdjust="spacingAndGlyphs">sequence</text>
<rect x="582.4" y="288.7" width="145.8" height="73" rx="6" ry="6" fill="#b3b3b3" stroke="#000" stroke-width="1.15"/>
<text x="587.4" y="311.9" font-size="15.9" textLength="116.8" lengthAdjust="spacingAndGlyphs" font-weight="bold" stroke="#000" stroke-width="0.3">Global attention</text>
<text x="587.4" y="330.5" font-size="15.2" textLength="83.1" lengthAdjust="spacingAndGlyphs">along global</text>
<text x="587.4" y="349.1" font-size="15.2" textLength="66.3" lengthAdjust="spacingAndGlyphs">sequence</text>
<rect x="763.6" y="288.7" width="146.3" height="73" rx="6" ry="6" fill="#e6e6e6" stroke="#000" stroke-width="1.15"/>
<text x="768.6" y="311.9" font-size="15.9" textLength="107.6" lengthAdjust="spacingAndGlyphs" font-weight="bold" stroke="#000" stroke-width="0.3">Local attention</text>
<text x="768.6" y="330.5" font-size="15.2" textLength="74.2" lengthAdjust="spacingAndGlyphs">along local</text>
<text x="768.6" y="349.1" font-size="15.2" textLength="66.3" lengthAdjust="spacingAndGlyphs">sequence</text>
<path d="M550.1 325H581.9" stroke="#000" stroke-width="1" fill="none"/><path d="M575.4 320.8L582.1 325L575.4 329.2" stroke="#000" stroke-width="1" fill="none"/><circle cx="547.1" cy="325" r="3.3" fill="#fff" stroke="#000" stroke-width="1"/>
<path d="M735.2 325H763.1" stroke="#000" stroke-width="1" fill="none"/><path d="M756.6 320.8L763.3000000000001 325L756.6 329.2" stroke="#000" stroke-width="1" fill="none"/><circle cx="732.2" cy="325" r="3.3" fill="#fff" stroke="#000" stroke-width="1"/>
<rect x="402.5" y="569.6" width="146.1" height="72" rx="6" ry="6" fill="#e6e6e6" stroke="#000" stroke-width="1.15"/>
<text x="407.5" y="591.4" font-size="15.9" textLength="107.6" lengthAdjust="spacingAndGlyphs" font-weight="bold" stroke="#000" stroke-width="0.3">Local attention</text>
<text x="407.5" y="610.4" font-size="15.2" textLength="74.2" lengthAdjust="spacingAndGlyphs">along local</text>
<text x="407.5" y="629.4" font-size="15.2" textLength="66.3" lengthAdjust="spacingAndGlyphs">sequence</text>
<rect x="586" y="569.6" width="145.8" height="72" rx="6" ry="6" fill="#b3b3b3" stroke="#000" stroke-width="1.15"/>
<text x="591" y="591.4" font-size="15.9" textLength="116.8" lengthAdjust="spacingAndGlyphs" font-weight="bold" stroke="#000" stroke-width="0.3">Global attention</text>
<text x="591" y="610.4" font-size="15.2" textLength="83.1" lengthAdjust="spacingAndGlyphs">along global</text>
<text x="591" y="629.4" font-size="15.2" textLength="66.3" lengthAdjust="spacingAndGlyphs">sequence</text>
<rect x="763.2" y="568" width="146.2" height="72.6" rx="6" ry="6" fill="#e6e6e6" stroke="#000" stroke-width="1.15"/>
<text x="768.2" y="591.0" font-size="15.9" textLength="107.6" lengthAdjust="spacingAndGlyphs" font-weight="bold" stroke="#000" stroke-width="0.3">Local attention</text>
<text x="768.2" y="609.7" font-size="15.2" textLength="74.2" lengthAdjust="spacingAndGlyphs">along local</text>
<text x="768.2" y="628.4" font-size="15.2" textLength="66.3" lengthAdjust="spacingAndGlyphs">sequence</text>
<rect x="941.6" y="568" width="145.8" height="72.6" rx="6" ry="6" fill="#ffffff" stroke="#000" stroke-width="1.15"/>
<text x="946.6" y="591.0" font-size="15.9" textLength="127.8" lengthAdjust="spacingAndGlyphs" font-weight="bold" stroke="#000" stroke-width="0.3">Output projection</text>
<path d="M555.6 605.5H585.5" stroke="#000" stroke-width="1" fill="none"/><path d="M579 601.3L585.7 605.5L579 609.7" stroke="#000" stroke-width="1" fill="none"/><circle cx="552.6" cy="605.5" r="3.3" fill="#fff" stroke="#000" stroke-width="1"/>
<path d="M738.8 604.2H762.7" stroke="#000" stroke-width="1" fill="none"/><path d="M756.2 600.0L762.9000000000001 604.2L756.2 608.4000000000001" stroke="#000" stroke-width="1" fill="none"/><circle cx="735.8" cy="604.2" r="3.3" fill="#fff" stroke="#000" stroke-width="1"/>
<rect x="409.90" y="374.80" width="30.10" height="30.10" fill="#f4bfc2"/>
<rect x="440.00" y="374.80" width="30.10" height="30.10" fill="#9efaf6"/>
<rect x="470.10" y="374.80" width="30.10" height="30.10" fill="#dccafa"/>
<rect x="500.20" y="374.80" width="30.10" height="30.10" fill="#595959"/>
<rect x="409.90" y="404.90" width="30.10" height="30.10" fill="#e290b9"/>
<rect x="440.00" y="404.90" width="30.10" height="30.10" fill="#6fa9f3"/>
<rect x="470.10" y="404.90" width="30.10" height="30.10" fill="#a7c0f8"/>
<rect x="500.20" y="404.90" width="30.10" height="30.10" fill="#dddddd"/>
<rect x="409.90" y="435.00" width="30.10" height="30.10" fill="#e1382f"/>
<rect x="440.00" y="435.00" width="30.10" height="30.10" fill="#3b7b78"/>
<rect x="470.10" y="435.00" width="30.10" height="30.10" fill="#6424ee"/>
<rect x="500.20" y="435.00" width="30.10" height="30.10" fill="#262626"/>
<rect x="409.90" y="465.10" width="30.10" height="30.10" fill="#6e2046"/>
<rect x="440.00" y="465.10" width="30.10" height="30.10" fill="#12305a"/>
<rect x="470.10" y="465.10" width="30.10" height="30.10" fill="#1f49c4"/>
<rect x="500.20" y="465.10" width="30.10" height="30.10" fill="#a9a9a9"/>
<path d="M417.42 374.80V495.20M409.90 382.32H530.30M424.95 374.80V495.20M409.90 389.85H530.30M432.47 374.80V495.20M409.90 397.38H530.30M447.52 374.80V495.20M409.90 412.43H530.30M455.05 374.80V495.20M409.90 419.95H530.30M462.57 374.80V495.20M409.90 427.48H530.30M477.62 374.80V495.20M409.90 442.53H530.30M485.15 374.80V495.20M409.90 450.05H530.30M492.67 374.80V495.20M409.90 457.58H530.30M507.72 374.80V495.20M409.90 472.62H530.30M515.25 374.80V495.20M409.90 480.15H530.30M522.77 374.80V495.20M409.90 487.68H530.30" stroke="#000" stroke-width="0.9" fill="none"/>
<path d="M409.90 374.80V495.20M409.90 374.80H530.30M440.00 374.80V495.20M409.90 404.90H530.30M470.10 374.80V495.20M409.90 435.00H530.30M500.20 374.80V495.20M409.90 465.10H530.30M530.30 374.80V495.20M409.90 495.20H530.30" stroke="#e8483f" stroke-width="1.3" fill="none"/>
<rect x="594.90" y="374.80" width="7.53" height="7.53" fill="#f4bfc2"/>
<rect x="602.42" y="374.80" width="7.53" height="7.53" fill="#9efaf6"/>
<rect x="609.95" y="374.80" width="7.53" height="7.53" fill="#dccafa"/>
<rect x="617.48" y="374.80" width="7.53" height="7.53" fill="#595959"/>
<rect x="594.90" y="382.32" width="7.53" height="7.53" fill="#e290b9"/>
<rect x="602.42" y="382.32" width="7.53" height="7.53" fill="#6fa9f3"/>
<rect x="609.95" y="382.32" width="7.53" height="7.53" fill="#a7c0f8"/>
<rect x="617.48" y="382.32" width="7.53" height="7.53" fill="#dddddd"/>
<rect x="594.90" y="389.85" width="7.53" height="7.53" fill="#e1382f"/>
<rect x="602.42" y="389.85" width="7.53" height="7.53" fill="#3b7b78"/>
<rect x="609.95" y="389.85" width="7.53" height="7.53" fill="#6424ee"/>
<rect x="617.48" y="389.85" width="7.53" height="7.53" fill="#262626"/>
<rect x="594.90" y="397.38" width="7.53" height="7.53" fill="#6e2046"/>
<rect x="602.42" y="397.38" width="7.53" height="7.53" fill="#12305a"/>
<rect x="609.95" y="397.38" width="7.53" height="7.53" fill="#1f49c4"/>
<rect x="617.48" y="397.38" width="7.53" height="7.53" fill="#808080"/>
<rect x="625.00" y="374.80" width="7.53" height="7.53" fill="#f4bfc2"/>
<rect x="632.52" y="374.80" width="7.53" height="7.53" fill="#9efaf6"/>
<rect x="640.05" y="374.80" width="7.53" height="7.53" fill="#dccafa"/>
<rect x="647.58" y="374.80" width="7.53" height="7.53" fill="#595959"/>
<rect x="625.00" y="382.32" width="7.53" height="7.53" fill="#e290b9"/>
<rect x="632.52" y="382.32" width="7.53" height="7.53" fill="#6fa9f3"/>
<rect x="640.05" y="382.32" width="7.53" height="7.53" fill="#a7c0f8"/>
<rect x="647.58" y="382.32" width="7.53" height="7.53" fill="#dddddd"/>
<rect x="625.00" y="389.85" width="7.53" height="7.53" fill="#e1382f"/>
<rect x="632.52" y="389.85" width="7.53" height="7.53" fill="#3b7b78"/>
<rect x="640.05" y="389.85" width="7.53" height="7.53" fill="#6424ee"/>
<rect x="647.58" y="389.85" width="7.53" height="7.53" fill="#262626"/>
<rect x="625.00" y="397.38" width="7.53" height="7.53" fill="#6e2046"/>
<rect x="632.52" y="397.38" width="7.53" height="7.53" fill="#12305a"/>
<rect x="640.05" y="397.38" width="7.53" height="7.53" fill="#1f49c4"/>
<rect x="647.58" y="397.38" width="7.53" height="7.53" fill="#808080"/>
<rect x="655.10" y="374.80" width="7.53" height="7.53" fill="#f4bfc2"/>
<rect x="662.62" y="374.80" width="7.53" height="7.53" fill="#9efaf6"/>
<rect x="670.15" y="374.80" width="7.53" height="7.53" fill="#dccafa"/>
<rect x="677.68" y="374.80" width="7.53" height="7.53" fill="#595959"/>
<rect x="655.10" y="382.32" width="7.53" height="7.53" fill="#e290b9"/>
<rect x="662.62" y="382.32" width="7.53" height="7.53" fill="#6fa9f3"/>
<rect x="670.15" y="382.32" width="7.53" height="7.53" fill="#a7c0f8"/>
<rect x="677.68" y="382.32" width="7.53" height="7.53" fill="#dddddd"/>
<rect x="655.10" y="389.85" width="7.53" height="7.53" fill="#e1382f"/>
<rect x="662.62" y="389.85" width="7.53" height="7.53" fill="#3b7b78"/>
<rect x="670.15" y="389.85" width="7.53" height="7.53" fill="#6424ee"/>
<rect x="677.68" y="389.85" width="7.53" height="7.53" fill="#262626"/>
<rect x="655.10" y="397.38" width="7.53" height="7.53" fill="#6e2046"/>
<rect x="662.62" y="397.38" width="7.53" height="7.53" fill="#12305a"/>
<rect x="670.15" y="397.38" width="7.53" height="7.53" fill="#1f49c4"/>
<rect x="677.68" y="397.38" width="7.53" height="7.53" fill="#808080"/>
<rect x="685.20" y="374.80" width="7.53" height="7.53" fill="#f4bfc2"/>
<rect x="692.73" y="374.80" width="7.53" height="7.53" fill="#9efaf6"/>
<rect x="700.25" y="374.80" width="7.53" height="7.53" fill="#dccafa"/>
<rect x="707.78" y="374.80" width="7.53" height="7.53" fill="#595959"/>
<rect x="685.20" y="382.32" width="7.53" height="7.53" fill="#e290b9"/>
<rect x="692.73" y="382.32" width="7.53" height="7.53" fill="#6fa9f3"/>
<rect x="700.25" y="382.32" width="7.53" height="7.53" fill="#a7c0f8"/>
<rect x="707.78" y="382.32" width="7.53" height="7.53" fill="#dddddd"/>
<rect x="685.20" y="389.85" width="7.53" height="7.53" fill="#e1382f"/>
<rect x="692.73" y="389.85" width="7.53" height="7.53" fill="#3b7b78"/>
<rect x="700.25" y="389.85" width="7.53" height="7.53" fill="#6424ee"/>
<rect x="707.78" y="389.85" width="7.53" height="7.53" fill="#262626"/>
<rect x="685.20" y="397.38" width="7.53" height="7.53" fill="#6e2046"/>
<rect x="692.73" y="397.38" width="7.53" height="7.53" fill="#12305a"/>
<rect x="700.25" y="397.38" width="7.53" height="7.53" fill="#1f49c4"/>
<rect x="707.78" y="397.38" width="7.53" height="7.53" fill="#808080"/>
<rect x="594.90" y="404.90" width="7.53" height="7.53" fill="#f4bfc2"/>
<rect x="602.42" y="404.90" width="7.53" height="7.53" fill="#9efaf6"/>
<rect x="609.95" y="404.90" width="7.53" height="7.53" fill="#dccafa"/>
<rect x="617.48" y="404.90" width="7.53" height="7.53" fill="#595959"/>
<rect x="594.90" y="412.43" width="7.53" height="7.53" fill="#e290b9"/>
<rect x="602.42" y="412.43" width="7.53" height="7.53" fill="#6fa9f3"/>
<rect x="609.95" y="412.43" width="7.53" height="7.53" fill="#a7c0f8"/>
<rect x="617.48" y="412.43" width="7.53" height="7.53" fill="#dddddd"/>
<rect x="594.90" y="419.95" width="7.53" height="7.53" fill="#e1382f"/>
<rect x="602.42" y="419.95" width="7.53" height="7.53" fill="#3b7b78"/>
<rect x="609.95" y="419.95" width="7.53" height="7.53" fill="#6424ee"/>
<rect x="617.48" y="419.95" width="7.53" height="7.53" fill="#262626"/>
<rect x="594.90" y="427.48" width="7.53" height="7.53" fill="#6e2046"/>
<rect x="602.42" y="427.48" width="7.53" height="7.53" fill="#12305a"/>
<rect x="609.95" y="427.48" width="7.53" height="7.53" fill="#1f49c4"/>
<rect x="617.48" y="427.48" width="7.53" height="7.53" fill="#808080"/>
<rect x="625.00" y="404.90" width="7.53" height="7.53" fill="#f4bfc2"/>
<rect x="632.52" y="404.90" width="7.53" height="7.53" fill="#9efaf6"/>
<rect x="640.05" y="404.90" width="7.53" height="7.53" fill="#dccafa"/>
<rect x="647.58" y="404.90" width="7.53" height="7.53" fill="#595959"/>
<rect x="625.00" y="412.43" width="7.53" height="7.53" fill="#e290b9"/>
<rect x="632.52" y="412.43" width="7.53" height="7.53" fill="#6fa9f3"/>
<rect x="640.05" y="412.43" width="7.53" height="7.53" fill="#a7c0f8"/>
<rect x="647.58" y="412.43" width="7.53" height="7.53" fill="#dddddd"/>
<rect x="625.00" y="419.95" width="7.53" height="7.53" fill="#e1382f"/>
<rect x="632.52" y="419.95" width="7.53" height="7.53" fill="#3b7b78"/>
<rect x="640.05" y="419.95" width="7.53" height="7.53" fill="#6424ee"/>
<rect x="647.58" y="419.95" width="7.53" height="7.53" fill="#262626"/>
<rect x="625.00" y="427.48" width="7.53" height="7.53" fill="#6e2046"/>
<rect x="632.52" y="427.48" width="7.53" height="7.53" fill="#12305a"/>
<rect x="640.05" y="427.48" width="7.53" height="7.53" fill="#1f49c4"/>
<rect x="647.58" y="427.48" width="7.53" height="7.53" fill="#808080"/>
<rect x="655.10" y="404.90" width="7.53" height="7.53" fill="#f4bfc2"/>
<rect x="662.62" y="404.90" width="7.53" height="7.53" fill="#9efaf6"/>
<rect x="670.15" y="404.90" width="7.53" height="7.53" fill="#dccafa"/>
<rect x="677.68" y="404.90" width="7.53" height="7.53" fill="#595959"/>
<rect x="655.10" y="412.43" width="7.53" height="7.53" fill="#e290b9"/>
<rect x="662.62" y="412.43" width="7.53" height="7.53" fill="#6fa9f3"/>
<rect x="670.15" y="412.43" width="7.53" height="7.53" fill="#a7c0f8"/>
<rect x="677.68" y="412.43" width="7.53" height="7.53" fill="#dddddd"/>
<rect x="655.10" y="419.95" width="7.53" height="7.53" fill="#e1382f"/>
<rect x="662.62" y="419.95" width="7.53" height="7.53" fill="#3b7b78"/>
<rect x="670.15" y="419.95" width="7.53" height="7.53" fill="#6424ee"/>
<rect x="677.68" y="419.95" width="7.53" height="7.53" fill="#262626"/>
<rect x="655.10" y="427.48" width="7.53" height="7.53" fill="#6e2046"/>
<rect x="662.62" y="427.48" width="7.53" height="7.53" fill="#12305a"/>
<rect x="670.15" y="427.48" width="7.53" height="7.53" fill="#1f49c4"/>
<rect x="677.68" y="427.48" width="7.53" height="7.53" fill="#808080"/>
<rect x="685.20" y="404.90" width="7.53" height="7.53" fill="#f4bfc2"/>
<rect x="692.73" y="404.90" width="7.53" height="7.53" fill="#9efaf6"/>
<rect x="700.25" y="404.90" width="7.53" height="7.53" fill="#dccafa"/>
<rect x="707.78" y="404.90" width="7.53" height="7.53" fill="#595959"/>
<rect x="685.20" y="412.43" width="7.53" height="7.53" fill="#e290b9"/>
<rect x="692.73" y="412.43" width="7.53" height="7.53" fill="#6fa9f3"/>
<rect x="700.25" y="412.43" width="7.53" height="7.53" fill="#a7c0f8"/>
<rect x="707.78" y="412.43" width="7.53" height="7.53" fill="#dddddd"/>
<rect x="685.20" y="419.95" width="7.53" height="7.53" fill="#e1382f"/>
<rect x="692.73" y="419.95" width="7.53" height="7.53" fill="#3b7b78"/>
<rect x="700.25" y="419.95" width="7.53" height="7.53" fill="#6424ee"/>
<rect x="707.78" y="419.95" width="7.53" height="7.53" fill="#262626"/>
<rect x="685.20" y="427.48" width="7.53" height="7.53" fill="#6e2046"/>
<rect x="692.73" y="427.48" width="7.53" height="7.53" fill="#12305a"/>
<rect x="700.25" y="427.48" width="7.53" height="7.53" fill="#1f49c4"/>
<rect x="707.78" y="427.48" width="7.53" height="7.53" fill="#808080"/>
<rect x="594.90" y="435.00" width="7.53" height="7.53" fill="#f4bfc2"/>
<rect x="602.42" y="435.00" width="7.53" height="7.53" fill="#9efaf6"/>
<rect x="609.95" y="435.00" width="7.53" height="7.53" fill="#dccafa"/>
<rect x="617.48" y="435.00" width="7.53" height="7.53" fill="#595959"/>
<rect x="594.90" y="442.52" width="7.53" height="7.53" fill="#e290b9"/>
<rect x="602.42" y="442.52" width="7.53" height="7.53" fill="#6fa9f3"/>
<rect x="609.95" y="442.52" width="7.53" height="7.53" fill="#a7c0f8"/>
<rect x="617.48" y="442.52" width="7.53" height="7.53" fill="#dddddd"/>
<rect x="594.90" y="450.05" width="7.53" height="7.53" fill="#e1382f"/>
<rect x="602.42" y="450.05" width="7.53" height="7.53" fill="#3b7b78"/>
<rect x="609.95" y="450.05" width="7.53" height="7.53" fill="#6424ee"/>
<rect x="617.48" y="450.05" width="7.53" height="7.53" fill="#262626"/>
<rect x="594.90" y="457.57" width="7.53" height="7.53" fill="#6e2046"/>
<rect x="602.42" y="457.57" width="7.53" height="7.53" fill="#12305a"/>
<rect x="609.95" y="457.57" width="7.53" height="7.53" fill="#1f49c4"/>
<rect x="617.48" y="457.57" width="7.53" height="7.53" fill="#808080"/>
<rect x="625.00" y="435.00" width="7.53" height="7.53" fill="#f4bfc2"/>
<rect x="632.52" y="435.00" width="7.53" height="7.53" fill="#9efaf6"/>
<rect x="640.05" y="435.00" width="7.53" height="7.53" fill="#dccafa"/>
<rect x="647.58" y="435.00" width="7.53" height="7.53" fill="#595959"/>
<rect x="625.00" y="442.52" width="7.53" height="7.53" fill="#e290b9"/>
<rect x="632.52" y="442.52" width="7.53" height="7.53" fill="#6fa9f3"/>
<rect x="640.05" y="442.52" width="7.53" height="7.53" fill="#a7c0f8"/>
<rect x="647.58" y="442.52" width="7.53" height="7.53" fill="#dddddd"/>
<rect x="625.00" y="450.05" width="7.53" height="7.53" fill="#e1382f"/>
<rect x="632.52" y="450.05" width="7.53" height="7.53" fill="#3b7b78"/>
<rect x="640.05" y="450.05" width="7.53" height="7.53" fill="#6424ee"/>
<rect x="647.58" y="450.05" width="7.53" height="7.53" fill="#262626"/>
<rect x="625.00" y="457.57" width="7.53" height="7.53" fill="#6e2046"/>
<rect x="632.52" y="457.57" width="7.53" height="7.53" fill="#12305a"/>
<rect x="640.05" y="457.57" width="7.53" height="7.53" fill="#1f49c4"/>
<rect x="647.58" y="457.57" width="7.53" height="7.53" fill="#808080"/>
<rect x="655.10" y="435.00" width="7.53" height="7.53" fill="#f4bfc2"/>
<rect x="662.62" y="435.00" width="7.53" height="7.53" fill="#9efaf6"/>
<rect x="670.15" y="435.00" width="7.53" height="7.53" fill="#dccafa"/>
<rect x="677.68" y="435.00" width="7.53" height="7.53" fill="#595959"/>
<rect x="655.10" y="442.52" width="7.53" height="7.53" fill="#e290b9"/>
<rect x="662.62" y="442.52" width="7.53" height="7.53" fill="#6fa9f3"/>
<rect x="670.15" y="442.52" width="7.53" height="7.53" fill="#a7c0f8"/>
<rect x="677.68" y="442.52" width="7.53" height="7.53" fill="#dddddd"/>
<rect x="655.10" y="450.05" width="7.53" height="7.53" fill="#e1382f"/>
<rect x="662.62" y="450.05" width="7.53" height="7.53" fill="#3b7b78"/>
<rect x="670.15" y="450.05" width="7.53" height="7.53" fill="#6424ee"/>
<rect x="677.68" y="450.05" width="7.53" height="7.53" fill="#262626"/>
<rect x="655.10" y="457.57" width="7.53" height="7.53" fill="#6e2046"/>
<rect x="662.62" y="457.57" width="7.53" height="7.53" fill="#12305a"/>
<rect x="670.15" y="457.57" width="7.53" height="7.53" fill="#1f49c4"/>
<rect x="677.68" y="457.57" width="7.53" height="7.53" fill="#808080"/>
<rect x="685.20" y="435.00" width="7.53" height="7.53" fill="#f4bfc2"/>
<rect x="692.73" y="435.00" width="7.53" height="7.53" fill="#9efaf6"/>
<rect x="700.25" y="435.00" width="7.53" height="7.53" fill="#dccafa"/>
<rect x="707.78" y="435.00" width="7.53" height="7.53" fill="#595959"/>
<rect x="685.20" y="442.52" width="7.53" height="7.53" fill="#e290b9"/>
<rect x="692.73" y="442.52" width="7.53" height="7.53" fill="#6fa9f3"/>
<rect x="700.25" y="442.52" width="7.53" height="7.53" fill="#a7c0f8"/>
<rect x="707.78" y="442.52" width="7.53" height="7.53" fill="#dddddd"/>
<rect x="685.20" y="450.05" width="7.53" height="7.53" fill="#e1382f"/>
<rect x="692.73" y="450.05" width="7.53" height="7.53" fill="#3b7b78"/>
<rect x="700.25" y="450.05" width="7.53" height="7.53" fill="#6424ee"/>
<rect x="707.78" y="450.05" width="7.53" height="7.53" fill="#262626"/>
<rect x="685.20" y="457.57" width="7.53" height="7.53" fill="#6e2046"/>
<rect x="692.73" y="457.57" width="7.53" height="7.53" fill="#12305a"/>
<rect x="700.25" y="457.57" width="7.53" height="7.53" fill="#1f49c4"/>
<rect x="707.78" y="457.57" width="7.53" height="7.53" fill="#808080"/>
<rect x="594.90" y="465.10" width="7.53" height="7.53" fill="#f4bfc2"/>
<rect x="602.42" y="465.10" width="7.53" height="7.53" fill="#9efaf6"/>
<rect x="609.95" y="465.10" width="7.53" height="7.53" fill="#dccafa"/>
<rect x="617.48" y="465.10" width="7.53" height="7.53" fill="#595959"/>
<rect x="594.90" y="472.62" width="7.53" height="7.53" fill="#e290b9"/>
<rect x="602.42" y="472.62" width="7.53" height="7.53" fill="#6fa9f3"/>
<rect x="609.95" y="472.62" width="7.53" height="7.53" fill="#a7c0f8"/>
<rect x="617.48" y="472.62" width="7.53" height="7.53" fill="#dddddd"/>
<rect x="594.90" y="480.15" width="7.53" height="7.53" fill="#e1382f"/>
<rect x="602.42" y="480.15" width="7.53" height="7.53" fill="#3b7b78"/>
<rect x="609.95" y="480.15" width="7.53" height="7.53" fill="#6424ee"/>
<rect x="617.48" y="480.15" width="7.53" height="7.53" fill="#262626"/>
<rect x="594.90" y="487.68" width="7.53" height="7.53" fill="#6e2046"/>
<rect x="602.42" y="487.68" width="7.53" height="7.53" fill="#12305a"/>
<rect x="609.95" y="487.68" width="7.53" height="7.53" fill="#1f49c4"/>
<rect x="617.48" y="487.68" width="7.53" height="7.53" fill="#808080"/>
<rect x="625.00" y="465.10" width="7.53" height="7.53" fill="#f4bfc2"/>
<rect x="632.52" y="465.10" width="7.53" height="7.53" fill="#9efaf6"/>
<rect x="640.05" y="465.10" width="7.53" height="7.53" fill="#dccafa"/>
<rect x="647.58" y="465.10" width="7.53" height="7.53" fill="#595959"/>
<rect x="625.00" y="472.62" width="7.53" height="7.53" fill="#e290b9"/>
<rect x="632.52" y="472.62" width="7.53" height="7.53" fill="#6fa9f3"/>
<rect x="640.05" y="472.62" width="7.53" height="7.53" fill="#a7c0f8"/>
<rect x="647.58" y="472.62" width="7.53" height="7.53" fill="#dddddd"/>
<rect x="625.00" y="480.15" width="7.53" height="7.53" fill="#e1382f"/>
<rect x="632.52" y="480.15" width="7.53" height="7.53" fill="#3b7b78"/>
<rect x="640.05" y="480.15" width="7.53" height="7.53" fill="#6424ee"/>
<rect x="647.58" y="480.15" width="7.53" height="7.53" fill="#262626"/>
<rect x="625.00" y="487.68" width="7.53" height="7.53" fill="#6e2046"/>
<rect x="632.52" y="487.68" width="7.53" height="7.53" fill="#12305a"/>
<rect x="640.05" y="487.68" width="7.53" height="7.53" fill="#1f49c4"/>
<rect x="647.58" y="487.68" width="7.53" height="7.53" fill="#808080"/>
<rect x="655.10" y="465.10" width="7.53" height="7.53" fill="#f4bfc2"/>
<rect x="662.62" y="465.10" width="7.53" height="7.53" fill="#9efaf6"/>
<rect x="670.15" y="465.10" width="7.53" height="7.53" fill="#dccafa"/>
<rect x="677.68" y="465.10" width="7.53" height="7.53" fill="#595959"/>
<rect x="655.10" y="472.62" width="7.53" height="7.53" fill="#e290b9"/>
<rect x="662.62" y="472.62" width="7.53" height="7.53" fill="#6fa9f3"/>
<rect x="670.15" y="472.62" width="7.53" height="7.53" fill="#a7c0f8"/>
<rect x="677.68" y="472.62" width="7.53" height="7.53" fill="#dddddd"/>
<rect x="655.10" y="480.15" width="7.53" height="7.53" fill="#e1382f"/>
<rect x="662.62" y="480.15" width="7.53" height="7.53" fill="#3b7b78"/>
<rect x="670.15" y="480.15" width="7.53" height="7.53" fill="#6424ee"/>
<rect x="677.68" y="480.15" width="7.53" height="7.53" fill="#262626"/>
<rect x="655.10" y="487.68" width="7.53" height="7.53" fill="#6e2046"/>
<rect x="662.62" y="487.68" width="7.53" height="7.53" fill="#12305a"/>
<rect x="670.15" y="487.68" width="7.53" height="7.53" fill="#1f49c4"/>
<rect x="677.68" y="487.68" width="7.53" height="7.53" fill="#808080"/>
<rect x="685.20" y="465.10" width="7.53" height="7.53" fill="#f4bfc2"/>
<rect x="692.73" y="465.10" width="7.53" height="7.53" fill="#9efaf6"/>
<rect x="700.25" y="465.10" width="7.53" height="7.53" fill="#dccafa"/>
<rect x="707.78" y="465.10" width="7.53" height="7.53" fill="#595959"/>
<rect x="685.20" y="472.62" width="7.53" height="7.53" fill="#e290b9"/>
<rect x="692.73" y="472.62" width="7.53" height="7.53" fill="#6fa9f3"/>
<rect x="700.25" y="472.62" width="7.53" height="7.53" fill="#a7c0f8"/>
<rect x="707.78" y="472.62" width="7.53" height="7.53" fill="#dddddd"/>
<rect x="685.20" y="480.15" width="7.53" height="7.53" fill="#e1382f"/>
<rect x="692.73" y="480.15" width="7.53" height="7.53" fill="#3b7b78"/>
<rect x="700.25" y="480.15" width="7.53" height="7.53" fill="#6424ee"/>
<rect x="707.78" y="480.15" width="7.53" height="7.53" fill="#262626"/>
<rect x="685.20" y="487.68" width="7.53" height="7.53" fill="#6e2046"/>
<rect x="692.73" y="487.68" width="7.53" height="7.53" fill="#12305a"/>
<rect x="700.25" y="487.68" width="7.53" height="7.53" fill="#1f49c4"/>
<rect x="707.78" y="487.68" width="7.53" height="7.53" fill="#808080"/>
<path d="M602.42 374.80V495.20M594.90 382.32H715.30M609.95 374.80V495.20M594.90 389.85H715.30M617.48 374.80V495.20M594.90 397.38H715.30M632.52 374.80V495.20M594.90 412.43H715.30M640.05 374.80V495.20M594.90 419.95H715.30M647.57 374.80V495.20M594.90 427.48H715.30M662.62 374.80V495.20M594.90 442.53H715.30M670.15 374.80V495.20M594.90 450.05H715.30M677.67 374.80V495.20M594.90 457.58H715.30M692.73 374.80V495.20M594.90 472.62H715.30M700.25 374.80V495.20M594.90 480.15H715.30M707.77 374.80V495.20M594.90 487.68H715.30" stroke="#000" stroke-width="0.9" fill="none"/>
<path d="M594.90 374.80V495.20M594.90 374.80H715.30M625.00 374.80V495.20M594.90 404.90H715.30M655.10 374.80V495.20M594.90 435.00H715.30M685.20 374.80V495.20M594.90 465.10H715.30M715.30 374.80V495.20M594.90 495.20H715.30" stroke="#e8483f" stroke-width="1.3" fill="none"/>
<g font-family="Liberation Mono, monospace" font-size="13.3"><text x="910.3" y="321">reconstruct</text><text x="910.3" y="336.8">batch</text></g>
<rect x="1021.8" y="257.6" width="24.4" height="24.4" fill="#ea7b7b" stroke="#000" stroke-width="1.05"/><rect x="1025.0" y="261.7" width="24.4" height="24.4" fill="#e6e6e6" stroke="#000" stroke-width="1.05"/><rect x="1028.2" y="265.7" width="24.4" height="24.4" fill="#ea7b7b" stroke="#000" stroke-width="1.05"/><rect x="1031.4" y="269.8" width="24.4" height="24.4" fill="#e6e6e6" stroke="#000" stroke-width="1.05"/>
<rect x="1021.8" y="299.3" width="24.4" height="24.4" fill="#a3a366" stroke="#000" stroke-width="1.05"/><rect x="1025.0" y="303.4" width="24.4" height="24.4" fill="#a3a366" stroke="#000" stroke-width="1.05"/><rect x="1028.2" y="307.4" width="24.4" height="24.4" fill="#e6e6e6" stroke="#000" stroke-width="1.05"/><rect x="1031.4" y="311.4" width="24.4" height="24.4" fill="#e6e6e6" stroke="#000" stroke-width="1.05"/>
<rect x="1021.8" y="357.3" width="24.4" height="24.4" fill="#4c70e6" stroke="#000" stroke-width="1.05"/><rect x="1025.0" y="361.4" width="24.4" height="24.4" fill="#e6e6e6" stroke="#000" stroke-width="1.05"/><rect x="1028.2" y="365.4" width="24.4" height="24.4" fill="#4c70e6" stroke="#000" stroke-width="1.05"/><rect x="1031.4" y="369.4" width="24.4" height="24.4" fill="#e6e6e6" stroke="#000" stroke-width="1.05"/>
<text x="1038.3" y="350.2" font-size="16.5" font-weight="bold" text-anchor="middle">...</text>
<g font-weight="bold" font-size="16" stroke="#000" stroke-width="0.3">
<text transform="translate(69.6,451.5) rotate(-90)" textLength="56.4" lengthAdjust="spacingAndGlyphs">window</text>
<text transform="translate(69.6,540) rotate(-90)" textLength="40.3" lengthAdjust="spacingAndGlyphs">token</text>
<text transform="translate(69.6,651.5) rotate(-90)" textLength="73" lengthAdjust="spacingAndGlyphs">transpose</text>
</g>
<rect x="58.6" y="461.7" width="15" height="15" fill="#fff" stroke="#e8483f" stroke-width="1.1"/>
<rect x="58.6" y="550.3" width="15" height="14.5" fill="#fff" stroke="#000" stroke-width="1.1"/>
<path d="M65.9 673.5V656" stroke="#000" stroke-width="1.15" fill="none"/><path d="M61.6 662.5L65.9 655.6L70.2 662.5" stroke="#000" stroke-width="1.15" fill="none"/><circle cx="65.9" cy="677" r="3.3" fill="#fff" stroke="#000"/>
</g>
</svg>
<div class="cap"><span class="l1">Figure 1: Prithvi WxC core architecture elements and masking scheme.&nbsp; For simplicity the figure</span><span class="l2">ignores elements such as embedding and output layers as well as position encodings.</span></div>
</body></html>
